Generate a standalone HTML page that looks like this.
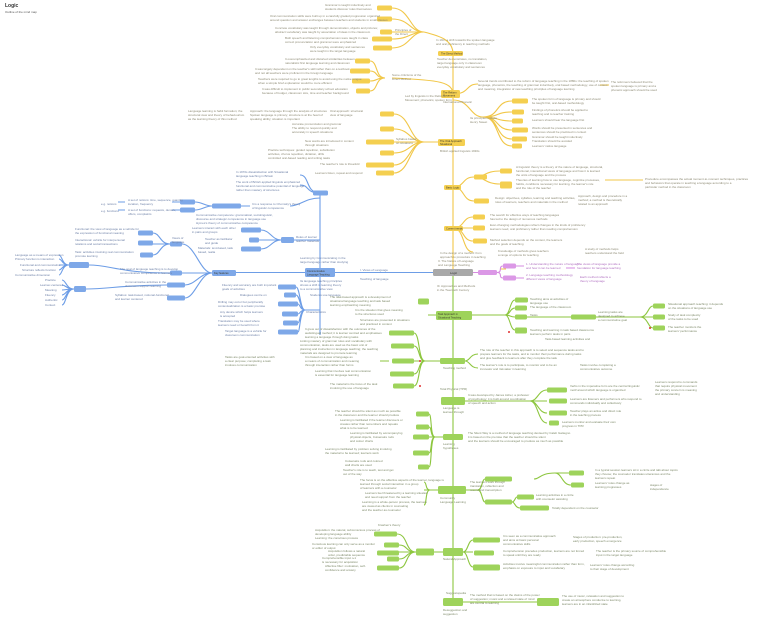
<!DOCTYPE html>
<html><head><meta charset="utf-8"><style>
html,body{margin:0;padding:0;background:#fff;width:768px;height:617px;overflow:hidden}
svg{display:block}
text{font-family:"Liberation Sans",sans-serif}
.t{font-size:3px;fill:#8d8a74}
.tb{font-size:3px;fill:#6f82a8}
.tg{font-size:3px;fill:#7e8a6a}
.y{stroke:#f1c748;stroke-width:1.1;fill:none}
.b{stroke:#6d9de6;stroke-width:1.1;fill:none}
.g{stroke:#8dc63f;stroke-width:1.1;fill:none}
.p{stroke:#d68be0;stroke-width:1.1;fill:none}
.ny{fill:#f4cf50}
.nb{fill:#7ea8e8}
.ng{fill:#9ed35b}
.np{fill:#db98e6}
.nl{font-size:2.6px;fill:#3c3a2a}
</style></head><body>
<svg width="768" height="617" viewBox="0 0 768 617" xmlns="http://www.w3.org/2000/svg">
<text x="5" y="7" style="font-size:5px;fill:#333;font-weight:bold">Logic</text>
<text x="5" y="13" style="font-size:3px;fill:#555">Outline of the mind map</text>

<!-- ===== YELLOW ===== -->
<path class="y" d="M453 54 V270"/>
<path class="y" d="M453 54 C453 40 440 36 424 32"/>
<path class="y" d="M453 95 C453 82 440 80 392 78"/>
<path class="y" d="M424 32 C410 32 410 8 392 8 M424 32 C410 32 410 19 392 19 M424 32 H392 M424 32 C410 32 410 39 392 39 M424 32 C410 32 410 48 392 48"/>
<path class="y" d="M385 78 C375 78 378 61 370 61 M385 78 C375 78 378 71 370 71 M385 78 C375 78 378 81 370 81 M385 78 C375 78 378 91 370 91"/>
<path class="y" d="M453 142 H424 M424 142 C410 142 410 114 394 114 M424 142 C410 142 410 129 394 129 M424 142 H394 M424 142 C410 142 410 153 394 153 M424 142 C410 142 410 165 394 165 M424 142 C410 142 410 173 394 173"/>
<path class="y" d="M453 94 C470 94 465 84 478 84"/>
<path class="y" d="M453 100 C470 100 470 117 483 117 M483 117 C500 117 495 101 512 101 M483 117 C500 117 495 112 512 112 M483 117 C500 117 495 121 512 121 M483 117 C500 117 495 130 512 130 M483 117 C500 117 495 139 512 139 M483 117 C500 117 495 146 512 146"/>
<path class="y" d="M453 187 C465 187 462 177 474 177 M474 177 C485 177 485 171 500 171 M474 177 C485 177 485 184 500 184 M453 187 C465 187 462 201 474 201"/>
<path class="y" d="M453 228 C465 228 462 217 473 217 M453 228 H473 M453 228 C465 228 462 241 473 241 M453 228 C465 228 462 252 473 252"/>
<path class="y" d="M600 85 H609 M605 180 H643 M500 269 H506"/>

<rect class="ny" x="438" y="51" width="25" height="5" rx="1.5"/><text class="nl" x="441" y="54.7">The Direct Method</text>
<rect class="ny" x="441" y="90" width="19" height="8" rx="1.5"/><text class="nl" x="443" y="93.5">The Reform</text><text class="nl" x="443" y="96.5">Movement</text>
<rect class="ny" x="438" y="139" width="27" height="7" rx="1.5"/><text class="nl" x="440" y="142">The Oral Approach</text><text class="nl" x="440" y="145">Situational</text>
<rect class="ny" x="444" y="185" width="17" height="5" rx="1.5"/><text class="nl" x="446" y="188.7">Basic Logic</text>
<rect class="ny" x="444" y="226" width="19" height="5" rx="1.5"/><text class="nl" x="446" y="229.7">Current trends</text>
<text class="t" x="436" y="41">In 19C. a shift towards the spoken language</text><text class="t" x="436" y="45">and oral proficiency in teaching methods</text>
<text class="t" x="437" y="60">Teacher demonstrates, no translation,</text><text class="t" x="437" y="64">target language only in classroom</text><text class="t" x="437" y="68">everyday vocabulary and sentences</text>
<text class="t" x="405" y="97">Led by linguists in the Reform</text><text class="t" x="405" y="101">Movement; phonetics; spoken form</text>
<text class="t" x="443" y="103">International Phonetic</text>
<text class="t" x="440" y="152">British applied linguists 1930s</text>
<text class="t" x="440" y="254">In the design of a method: from</text><text class="t" x="440" y="258">approach to procedure in teaching</text>

<rect class="ny" x="377" y="5.5" width="15" height="5" rx="1.5"/><rect class="ny" x="377" y="16.5" width="15" height="5" rx="1.5"/><rect class="ny" x="380" y="29.5" width="12" height="5" rx="1.5"/><rect class="ny" x="372" y="36.5" width="20" height="5" rx="1.5"/><rect class="ny" x="373" y="45.5" width="19" height="5" rx="1.5"/>
<text class="t" x="325" y="6">Grammar is taught inductively and</text><text class="t" x="325" y="10">students discover rules themselves</text>
<text class="t" x="270" y="17">Oral communication skills were built up in a carefully graded progression organized</text><text class="t" x="270" y="21">around question and answer exchanges between teachers and students in small classes</text>
<text class="t" x="275" y="29">Concrete vocabulary was taught through demonstration, objects and pictures;</text><text class="t" x="275" y="33">abstract vocabulary was taught by association of ideas in the classroom</text>
<text class="t" x="285" y="39">Both speech and listening comprehension were taught in class</text><text class="t" x="285" y="43">correct pronunciation and grammar were emphasized</text>
<text class="t" x="310" y="48">Only everyday vocabulary and sentences</text><text class="t" x="310" y="52">were taught in the target language</text>
<text class="t" x="395" y="31">Principles of</text><text class="t" x="395" y="35">the Direct</text>

<rect class="ny" x="355" y="58.5" width="15" height="5" rx="1.5"/><rect class="ny" x="350" y="68.5" width="20" height="5" rx="1.5"/><rect class="ny" x="352" y="78.5" width="18" height="5" rx="1.5"/><rect class="ny" x="356" y="88.5" width="14" height="5" rx="1.5"/>
<text class="t" x="285" y="60">It overemphasized and distorted similarities between</text><text class="t" x="285" y="64">naturalistic first language learning and classroom</text>
<text class="t" x="255" y="70">It was largely dependent on the teacher's skill rather than on a textbook</text><text class="t" x="255" y="74">and not all teachers were proficient in the foreign language</text>
<text class="t" x="258" y="80">Teachers were required to go to great lengths to avoid using the native tongue</text><text class="t" x="258" y="84">when a simple brief explanation would be more efficient</text>
<text class="t" x="262" y="90">It was difficult to implement in public secondary school education</text><text class="t" x="262" y="94">because of budget, classroom size, time and teacher background</text>
<text class="t" x="392" y="76">Some criticisms of the</text><text class="t" x="392" y="80">Direct Method</text>

<rect class="ny" x="380" y="111.5" width="14" height="5" rx="1.5"/><rect class="ny" x="380" y="126.5" width="14" height="5" rx="1.5"/><rect class="ny" x="366" y="139.5" width="28" height="5" rx="1.5"/><rect class="ny" x="380" y="150.5" width="14" height="5" rx="1.5"/><rect class="ny" x="366" y="162.5" width="28" height="5" rx="1.5"/><rect class="ny" x="376" y="170.5" width="18" height="5" rx="1.5"/>
<text class="t" x="188" y="112">Language learning is habit formation; the</text><text class="t" x="188" y="116">structural view and theory of behaviourism</text><text class="t" x="188" y="120">as the learning theory of this method</text>
<text class="t" x="250" y="112">Approach: the language through the analysis of structures</text><text class="t" x="250" y="116">Spoken language is primary; structure is at the heart of</text><text class="t" x="250" y="120">speaking ability; situation is important</text>
<text class="t" x="330" y="112">Oral approach: structural</text><text class="t" x="330" y="116">view of language</text>
<text class="t" x="292" y="125">Accurate pronunciation and grammar</text><text class="t" x="292" y="129">The ability to respond quickly and</text><text class="t" x="292" y="133">accurately in speech situations</text>
<text class="t" x="305" y="142">New words are introduced in context</text><text class="t" x="305" y="146">through situations</text>
<text class="t" x="268" y="151">Practice techniques: guided repetition, substitution</text><text class="t" x="268" y="155">activities, chorus repetition, dictation, drills</text><text class="t" x="268" y="159">controlled oral-based reading and writing tasks</text>
<text class="t" x="320" y="165">The teacher's role is threefold</text>
<text class="t" x="315" y="174">Learners listen, repeat and respond</text>
<text class="t" x="396" y="140">Syllabus based</text><text class="t" x="396" y="144">on situations</text>

<text class="t" x="478" y="82">Several trends contributed to the reform of language teaching in the 1880s: the teaching of spoken</text><text class="t" x="478" y="86">language, phonetics, the teaching of grammar inductively, oral based methodology, use of context</text><text class="t" x="478" y="90">and meaning, integration of new teaching principles of language learning</text>
<text class="t" x="611" y="83">The reformers believed that the</text><text class="t" x="611" y="87">spoken language is primary and a</text><text class="t" x="611" y="91">phonetic approach should be used</text>
<text class="t" x="470" y="119">Its principles include</text><text class="t" x="470" y="123">Henry Sweet</text>
<rect class="ny" x="512" y="98.5" width="16" height="5" rx="1.5"/><rect class="ny" x="512" y="109.5" width="12" height="5" rx="1.5"/><rect class="ny" x="512" y="118.5" width="11" height="5" rx="1.5"/><rect class="ny" x="512" y="127.5" width="16" height="5" rx="1.5"/><rect class="ny" x="512" y="136.5" width="15" height="5" rx="1.5"/><rect class="ny" x="512" y="143.5" width="10" height="5" rx="1.5"/>
<text class="t" x="532" y="100">The spoken form of language is primary and should</text><text class="t" x="532" y="104">be taught first, oral-based methodology</text>
<text class="t" x="532" y="111">Findings of phonetics should be applied to</text><text class="t" x="532" y="115">teaching and to teacher training</text>
<text class="t" x="532" y="121">Learners should hear the language first</text>
<text class="t" x="532" y="129">Words should be presented in sentences and</text><text class="t" x="532" y="133">sentences should be practiced in context</text>
<text class="t" x="532" y="138">Grammar should be taught inductively</text><text class="t" x="532" y="142">Translation should be avoided</text>
<text class="t" x="532" y="147">Learners' native language</text>

<rect class="ny" x="500" y="168.5" width="12" height="5" rx="1.5"/><rect class="ny" x="500" y="181.5" width="12" height="7" rx="1.5"/><rect class="ny" x="474" y="174.5" width="13" height="5" rx="1.5"/><rect class="ny" x="474" y="198.5" width="15" height="5" rx="1.5"/>
<text class="t" x="516" y="168">A linguistic theory is a theory of the nature of language, structural,</text><text class="t" x="516" y="172">functional, interactional views of language and how it is learned</text><text class="t" x="516" y="176">the units of language and the process</text>
<text class="t" x="516" y="181">Theories of learning how to use language, cognitive processes,</text><text class="t" x="516" y="185">habits, conditions necessary for learning, the learner's role</text><text class="t" x="516" y="189">and the role of the teacher</text>
<text class="t" x="495" y="199">Design: objectives, syllabus, learning and teaching activities,</text><text class="t" x="495" y="203">roles of learners, teachers and materials in the method</text>
<text class="t" x="645" y="180">Procedure encompasses the actual moment-to-moment techniques, practices</text><text class="t" x="645" y="184">and behaviors that operate in teaching a language according to a</text><text class="t" x="645" y="188">particular method in the classroom</text>
<text class="t" x="578" y="197">Approach, design and procedure in a</text><text class="t" x="578" y="201">method; a method is theoretically</text><text class="t" x="578" y="205">related to an approach</text>

<rect class="ny" x="473" y="214.5" width="12" height="5" rx="1.5"/><rect class="ny" x="473" y="225.5" width="12" height="5" rx="1.5"/><rect class="ny" x="473" y="238.5" width="14" height="5" rx="1.5"/>
<text class="t" x="490" y="216">The search for effective ways of teaching languages</text><text class="t" x="490" y="220">has led to the design of numerous methods</text>
<text class="t" x="490" y="226">Ever-changing methodologies reflect changes in the kinds of proficiency</text><text class="t" x="490" y="230">learners need, oral proficiency rather than reading comprehension</text>
<text class="t" x="490" y="241">Method selection depends on the context, the learners</text><text class="t" x="490" y="245">and the goals of teaching</text>
<text class="t" x="498" y="252">Knowledge of methods gives teachers</text><text class="t" x="498" y="256">a range of options for teaching</text>
<text class="t" x="585" y="250">A study of methods helps</text><text class="t" x="585" y="254">teachers understand the field</text>

<!-- ===== GRAY CENTRAL ===== -->
<path class="b" d="M335 272.5 H433"/>
<path class="g" d="M453 275 V605"/>
<rect x="433" y="269" width="40" height="7" rx="1.5" fill="#a9a9a9"/><text x="450" y="274" style="font-size:3px;fill:#333">Logic</text>
<text class="t" x="438" y="262">II. The Nature of Language</text><text class="t" x="438" y="266">and Language Teaching</text>
<text class="t" x="437" y="287">III. Approaches and Methods</text><text class="t" x="437" y="291">in the Twentieth Century</text>
<text class="tb" x="360" y="271">I. Views of Language</text><text class="tb" x="360" y="280">Teaching of language</text>

<!-- ===== PINK ===== -->
<path class="p" d="M473 272.5 H478 M497 272.5 C503 272.5 498 266 503 266 M497 272.5 C503 272.5 498 278 503 278 M516 266 H524 M516 278 H524 M566 268 H575"/>
<rect class="np" x="478" y="270" width="19" height="5" rx="1.5"/>
<rect class="np" x="503" y="263.5" width="13" height="5" rx="1.5"/><rect class="np" x="503" y="275.5" width="13" height="5" rx="1.5"/>
<text x="526" y="265" style="font-size:3px;fill:#b070c0">1. Understanding the nature of language</text><text x="526" y="269" style="font-size:3px;fill:#b070c0">and how it can be learned</text>
<text x="526" y="276" style="font-size:3px;fill:#b070c0">2. Language teaching methodology</text><text x="526" y="280" style="font-size:3px;fill:#b070c0">different views of language</text>
<text x="577" y="265" style="font-size:3px;fill:#b070c0">The views of language provide a</text><text x="577" y="269" style="font-size:3px;fill:#b070c0">foundation for language teaching</text>
<text x="580" y="278" style="font-size:3px;fill:#b070c0">Each method reflects a</text><text x="580" y="282" style="font-size:3px;fill:#b070c0">theory of language</text>

<!-- ===== BLUE ===== -->
<path class="b" d="M320 193 V270 M320 276 V335"/>
<path class="b" d="M320 193 C305 193 310 175 300 175 M320 193 C305 193 310 185 300 185"/>
<path class="b" d="M320 198 C305 198 300 206 290 206 M241 206 H250 M212 206 C205 206 202 202 195 202 M212 206 C205 206 202 210 195 210 M180 202 H172 M180 210 H172 M125 202 H118 M125 210 H118"/>
<path class="b" d="M305 272.5 H236"/>
<path class="b" d="M212 273 C200 273 195 244 182 244 M212 273 H182 M212 273 C200 273 195 285 185 285 M212 273 C200 273 195 298 185 298"/>
<path class="b" d="M170 244 C160 244 160 233 153 233 M170 244 H153 M170 244 C160 244 160 255 153 255"/>
<path class="b" d="M170 273 C120 273 110 265 89 265 M167 285 C120 285 110 289 86 289"/>
<path class="b" d="M69 265 C62 265 62 255 59 255 M69 265 C62 265 62 259 59 259 M69 265 C62 265 62 265 59 265 M69 265 C62 265 62 270 59 270 M69 265 C62 265 62 275 59 275"/>
<path class="b" d="M74 289 C66 289 66 280 62 280 M74 289 C66 289 66 285 62 285 M74 289 C66 289 66 290 62 290 M74 289 C66 289 66 295 62 295 M74 289 C66 289 66 300 62 300 M74 289 C66 289 66 305 62 305"/>
<path class="b" d="M320 240 H293 M281 240 C272 240 270 230 261 230 M281 240 H259 M281 240 C272 240 270 249 261 249"/>
<path class="b" d="M320 310 H305 M305 310 C300 310 300 287 296 287 M305 310 C300 310 300 295 296 295 M305 310 C300 310 300 304 298 304 M305 310 C300 310 300 314 298 314 M305 310 C300 310 300 323 298 323 M305 310 C300 310 300 332 298 332"/>

<rect class="nb" x="305" y="268" width="30" height="9" rx="1.5"/><text class="nl" x="307" y="272">Communicative</text><text class="nl" x="307" y="275.5">Language Teaching</text>
<rect class="nb" x="313" y="190.5" width="15" height="5" rx="1.5"/>
<text class="tb" x="236" y="173">In 1970s dissatisfaction with Situational</text><text class="tb" x="236" y="177">language teaching in Britain</text>
<text class="tb" x="236" y="183">The work of British applied linguists emphasized</text><text class="tb" x="236" y="187">functional and communicative potential of language</text><text class="tb" x="236" y="191">rather than mastery of structures</text>
<rect class="nb" x="212" y="203.5" width="29" height="5" rx="1.5"/>
<text class="tb" x="252" y="205">It is a response to Chomsky's theory</text><text class="tb" x="252" y="209">of linguistic competence</text>
<rect class="nb" x="180" y="199.5" width="15" height="5" rx="1.5"/><rect class="nb" x="180" y="207.5" width="15" height="5" rx="1.5"/>
<text class="tb" x="128" y="201">A set of notions: time, sequence, quantity,</text><text class="tb" x="128" y="205">location, frequency</text>
<text class="tb" x="128" y="211">A set of functions: requests, denials,</text><text class="tb" x="128" y="215">offers, complaints</text>
<text class="tb" x="101" y="205">e.g. notions</text><text class="tb" x="101" y="212">e.g. functions</text>
<text class="tb" x="196" y="216">Communicative competence: grammatical, sociolinguistic,</text><text class="tb" x="196" y="220">discourse and strategic competence in language use</text><text class="tb" x="196" y="224">Hymes's theory of communicative competence</text>

<rect class="nb" x="212" y="270" width="24" height="6" rx="1.5"/><text class="nl" x="214" y="274">Key features</text>
<rect class="nb" x="170" y="241.5" width="12" height="5" rx="1.5"/><rect class="nb" x="170" y="270.5" width="12" height="5" rx="1.5"/><rect class="nb" x="167" y="282.5" width="18" height="5" rx="1.5"/><rect class="nb" x="167" y="295.5" width="18" height="5" rx="1.5"/>
<rect class="nb" x="138" y="230.5" width="15" height="5" rx="1.5"/><rect class="nb" x="138" y="240.5" width="15" height="5" rx="1.5"/><rect class="nb" x="140" y="252.5" width="13" height="5" rx="1.5"/>
<text class="tb" x="75" y="230">Functional: the view of language as a vehicle for</text><text class="tb" x="75" y="234">the expression of functional meaning</text>
<text class="tb" x="75" y="241">Interactional: vehicle for interpersonal</text><text class="tb" x="75" y="245">relations and social transactions</text>
<text class="tb" x="75" y="253">Task: activities involving real communication</text><text class="tb" x="75" y="257">promote learning</text>
<text class="tb" x="172" y="239">Views of</text><text class="tb" x="172" y="243">language</text>
<text class="tb" x="120" y="270">The goal of language teaching is to develop</text><text class="tb" x="120" y="274">communicative competence in learners</text>
<text class="tb" x="125" y="283">Communicative activities in the</text><text class="tb" x="125" y="287">classroom support learning</text>
<text class="tb" x="115" y="296">Syllabus: task-based, notional-functional</text><text class="tb" x="115" y="300">and learner centered</text>
<rect class="nb" x="69" y="262" width="20" height="6" rx="1.5"/><rect class="nb" x="74" y="286" width="12" height="6" rx="1.5"/>
<text class="tb" x="15" y="256">Language as a means of expression</text><text class="tb" x="15" y="260">Primary function is interaction</text><text class="tb" x="20" y="266">Functional and communicative</text><text class="tb" x="22" y="271">Structure reflects function</text><text class="tb" x="15" y="276">Communicative dimension</text>
<text class="tb" x="45" y="281">Practice</text><text class="tb" x="40" y="286">Learner-centered</text><text class="tb" x="45" y="291">Meaning</text><text class="tb" x="45" y="296">Fluency</text><text class="tb" x="45" y="301">Authentic</text><text class="tb" x="45" y="306">Context</text>

<rect class="nb" x="241" y="227.5" width="20" height="5" rx="1.5"/><rect class="nb" x="249" y="237.5" width="10" height="5" rx="1.5"/><rect class="nb" x="241" y="246.5" width="20" height="5" rx="1.5"/><rect class="nb" x="281" y="237" width="13" height="6" rx="1.5"/>
<text class="tb" x="192" y="229">Learners interact with each other</text><text class="tb" x="192" y="233">in pairs and groups</text>
<text class="tb" x="205" y="240">Teacher as facilitator</text><text class="tb" x="205" y="244">and guide</text>
<text class="tb" x="198" y="249">Materials: text-based, task</text><text class="tb" x="198" y="253">based, realia</text>
<text class="tb" x="296" y="238">Roles of learner</text><text class="tb" x="296" y="242">teacher materials</text>
<text class="tb" x="300" y="259">Learning by Communicating in the</text><text class="tb" x="300" y="263">target language rather than studying</text>
<text class="tb" x="300" y="282">Its language teaching principles</text><text class="tb" x="300" y="286">shows a shift in learning theory</text><text class="tb" x="300" y="290">to a communicative view</text>
<text class="tb" x="310" y="296">Students use language</text>

<rect class="nb" x="278" y="284.5" width="18" height="5" rx="1.5"/><rect class="nb" x="284" y="292.5" width="12" height="5" rx="1.5"/><rect class="nb" x="278" y="301.5" width="20" height="5" rx="1.5"/><rect class="nb" x="282" y="311.5" width="16" height="5" rx="1.5"/><rect class="nb" x="283" y="320.5" width="15" height="5" rx="1.5"/><rect class="nb" x="278" y="329.5" width="20" height="5" rx="1.5"/>
<text class="tb" x="222" y="286">Fluency and accuracy are both important</text><text class="tb" x="222" y="290">goals of activities</text>
<text class="tb" x="240" y="296">Dialogues centre on</text>
<text class="tb" x="218" y="303">Drilling may occur but peripherally</text><text class="tb" x="218" y="307">contextualization is a basic premise</text>
<text class="tb" x="220" y="313">Any device which helps learners</text><text class="tb" x="220" y="317">is accepted</text>
<text class="tb" x="218" y="322">Translation may be used where</text><text class="tb" x="218" y="326">learners need or benefit from it</text>
<text class="tb" x="225" y="332">Target language is a vehicle for</text><text class="tb" x="225" y="336">classroom communication</text>
<text class="tb" x="306" y="313">Characteristics</text>

<!-- ===== GREEN ===== -->
<rect class="ng" x="436" y="311" width="36" height="9" rx="1.5"/><text class="nl" x="438" y="315">Task Approach in</text><text class="nl" x="438" y="318.5">Situational Teaching</text>
<path class="g" d="M436 315 H428 M472 315 C490 315 490 315 505 315 M505 315 C510 315 510 300 515 300 M505 315 C510 315 510 308 515 308 M505 315 C510 315 510 317 515 317 M505 315 C510 315 510 330 515 330 M527 317 H571 M596 317 H640 M640 317 C648 317 648 306 653 306 M640 317 H653 M640 317 C648 317 648 328 653 328"/>
<rect class="ng" x="418" y="298.5" width="11" height="6" rx="1.5"/>
<text class="tg" x="330" y="298">The task-based approach is a development of</text><text class="tg" x="330" y="302">situational language teaching and task based</text><text class="tg" x="330" y="306">learning emphasizing meaning</text>
<text class="tg" x="355" y="311">It is the situation that gives meaning</text><text class="tg" x="355" y="315">to the structures used</text>
<text class="tg" x="360" y="321">Structures are presented in situations</text><text class="tg" x="360" y="325">and practiced in context</text>
<rect class="ng" x="515" y="297.5" width="13" height="5" rx="1.5"/><rect class="ng" x="515" y="305.5" width="12" height="5" rx="1.5"/><rect class="ng" x="515" y="314.5" width="12" height="5" rx="1.5"/><rect class="ng" x="515" y="327.5" width="12" height="6" rx="1.5"/>
<text class="tg" x="530" y="300">Teaching aims at activities of</text><text class="tg" x="530" y="304">language use</text>
<text class="tg" x="530" y="308">The language of the classroom</text>
<text class="tg" x="530" y="316">Tasks</text>
<rect class="ng" x="571" y="314.5" width="25" height="5" rx="1.5"/>
<text class="tg" x="598" y="313">Learning tasks are</text><text class="tg" x="598" y="317">designed to achieve</text><text class="tg" x="598" y="321">a communicative goal</text>
<rect class="ng" x="653" y="303.5" width="12" height="5" rx="1.5"/><rect class="ng" x="653" y="314.5" width="12" height="5" rx="1.5"/><rect class="ng" x="653" y="325.5" width="12" height="5" rx="1.5"/>
<text class="tg" x="668" y="305">Situational approach teaching: it depends</text><text class="tg" x="668" y="309">on the situations of language use</text>
<text class="tg" x="668" y="316">Study of task complexity</text><text class="tg" x="668" y="320">of the tasks to be used</text>
<text class="tg" x="668" y="328">The teacher monitors the</text><text class="tg" x="668" y="332">learners' performance</text>
<text class="tg" x="530" y="331">Teaching and learning in task based classrooms</text><text class="tg" x="530" y="335">learners perform tasks in pairs</text><text class="tg" x="545" y="340">Task-based learning activities and</text>
<circle cx="650" cy="328" r="1" fill="#e03030"/><circle cx="509" cy="332" r="1" fill="#e03030"/>

<rect class="ng" x="440" y="358" width="25" height="6" rx="1.5"/>
<path class="g" d="M440 361 H425 M425 361 C418 361 420 333 414 333 M425 361 C418 361 420 346 414 346 M425 361 H414 M425 361 C418 361 420 374 414 374 M425 361 C418 361 420 386 414 386 M465 361 C470 361 470 354 478 354 M465 361 C470 361 470 368 478 368 M389 361 H380"/>
<rect class="ng" x="389" y="330.5" width="25" height="5" rx="1.5"/><rect class="ng" x="391" y="343.5" width="23" height="5" rx="1.5"/><rect class="ng" x="392" y="358.5" width="22" height="5" rx="1.5"/><rect class="ng" x="390" y="371.5" width="24" height="5" rx="1.5"/><rect class="ng" x="393" y="383.5" width="21" height="5" rx="1.5"/>
<circle cx="420" cy="361" r="1" fill="#e03030"/><circle cx="420" cy="386" r="1" fill="#e03030"/>
<text class="tg" x="305" y="330">It grew out of dissatisfaction with the outcomes of the</text><text class="tg" x="305" y="334">audiolingual method; it is learner centred and emphasises</text><text class="tg" x="305" y="338">learning a language through doing tasks</text>
<text class="tg" x="300" y="342">Linking mastery of grammar rules and vocabulary with</text><text class="tg" x="300" y="346">communication, tasks are used as the basic unit of</text><text class="tg" x="300" y="350">planning and instruction in language teaching; the teaching</text><text class="tg" x="300" y="354">materials are designed to promote learning</text>
<text class="tg" x="305" y="358">It is based on a view of language as</text><text class="tg" x="305" y="362">a means of communication and meaning</text><text class="tg" x="305" y="366">through interaction rather than forms</text>
<text class="tg" x="225" y="358">Tasks are goal-oriented activities with</text><text class="tg" x="225" y="362">a clear purpose; completing a task</text><text class="tg" x="225" y="366">involves communication</text>
<text class="tg" x="315" y="372">Learning that involves real communication</text><text class="tg" x="315" y="376">is essential for language learning</text>
<text class="tg" x="330" y="385">The material is the focus of the task</text><text class="tg" x="330" y="389">involving the use of language</text>
<text class="tg" x="480" y="351">The role of the teacher in this approach is to select and sequence tasks and to</text><text class="tg" x="480" y="355">prepare learners for the tasks, and to monitor their performance during tasks</text><text class="tg" x="480" y="359">and give feedback to learners after they complete the task</text>
<text class="tg" x="480" y="366">The learner's role is to participate, to monitor and to be an</text><text class="tg" x="480" y="370">innovator and risk-taker in learning</text>
<text class="tg" x="580" y="366">Tasks involve completing a</text><text class="tg" x="580" y="370">communicative outcome</text>
<text class="tg" x="443" y="369">Teaching method</text>
<text class="tg" x="440" y="390">Total Physical (TPR)</text>

<rect class="ng" x="441" y="397" width="24" height="8" rx="1.5"/>
<path class="g" d="M465 401 H530 M530 401 C538 401 538 390 547 390 M530 401 H547 M530 401 C538 401 538 413 547 413 M530 401 C538 401 538 423 547 423"/>
<text class="tg" x="468" y="396">It was developed by James Asher, a professor</text><text class="tg" x="468" y="400">of psychology; it is built around coordination</text><text class="tg" x="468" y="404">of speech and action</text>
<text class="tg" x="443" y="409">Language is</text><text class="tg" x="443" y="413">learned through</text>
<rect class="ng" x="547" y="387.5" width="20" height="5" rx="1.5"/><rect class="ng" x="549" y="398.5" width="18" height="5" rx="1.5"/><rect class="ng" x="549" y="410.5" width="18" height="5" rx="1.5"/><rect class="ng" x="549" y="420.5" width="10" height="5" rx="1.5"/>
<text class="tg" x="570" y="387">Verbs in the imperative form are the central linguistic</text><text class="tg" x="570" y="391">motif around which language is organized</text>
<text class="tg" x="570" y="400">Learners are listeners and performers who respond to</text><text class="tg" x="570" y="404">commands individually and collectively</text>
<text class="tg" x="570" y="412">Teacher plays an active and direct role</text><text class="tg" x="570" y="416">in the teaching process</text>
<text class="tg" x="562" y="423">Learners monitor and evaluate their own</text><text class="tg" x="562" y="427">progress in TPR</text>
<text class="tg" x="655" y="383">Learners respond to commands</text><text class="tg" x="655" y="387">that require physical movement</text><text class="tg" x="655" y="391">the primary concern is meaning</text><text class="tg" x="655" y="395">and understanding</text>

<rect class="ng" x="443" y="434" width="20" height="6" rx="1.5"/>
<path class="g" d="M443 437 H435 M435 437 C430 437 432 414 429 414 M435 437 C430 437 432 427 429 427 M435 437 H429 M435 437 C430 437 432 453 429 453 M435 437 C430 437 432 467 429 467"/>
<rect class="ng" x="416" y="411.5" width="13" height="5" rx="1.5"/><rect class="ng" x="416" y="424.5" width="13" height="5" rx="1.5"/><rect class="ng" x="413" y="434.5" width="16" height="5" rx="1.5"/><rect class="ng" x="413" y="450.5" width="16" height="5" rx="1.5"/><rect class="ng" x="418" y="464.5" width="11" height="5" rx="1.5"/>
<text class="tg" x="335" y="412">The teacher should be silent as much as possible</text><text class="tg" x="335" y="416">in the classroom and the learner should produce</text>
<text class="tg" x="340" y="421">Learning is facilitated if the learner discovers or</text><text class="tg" x="340" y="425">creates rather than remembers and repeats</text><text class="tg" x="340" y="429">what is to be learned</text>
<text class="tg" x="350" y="434">Learning is facilitated by accompanying</text><text class="tg" x="350" y="438">physical objects, Cuisenaire rods</text><text class="tg" x="350" y="442">and colour charts</text>
<text class="tg" x="325" y="450">Learning is facilitated by problem solving involving</text><text class="tg" x="325" y="454">the material to be learned; learners work</text>
<text class="tg" x="345" y="462">Cuisenaire rods and colored</text><text class="tg" x="345" y="466">wall charts are used</text>
<text class="tg" x="343" y="471">Teacher's role is to teach, test and get</text><text class="tg" x="343" y="475">out of the way</text>
<text class="tg" x="468" y="434">The Silent Way is a method of language teaching devised by Caleb Gattegno</text><text class="tg" x="468" y="438">it is based on the premise that the teacher should be silent</text><text class="tg" x="468" y="442">and the learners should be encouraged to produce as much as possible</text>
<text class="tg" x="443" y="445">Learning</text><text class="tg" x="443" y="449">hypotheses</text>

<rect class="ng" x="438" y="486" width="28" height="8" rx="1.5"/>
<path class="g" d="M438 490 H430 M430 490 C425 490 427 482 424 482 M430 490 H424 M430 490 C425 490 427 505 424 505 M466 490 H478 M478 490 C482 490 482 479 485 479 M478 490 C482 490 482 502 485 502 M512 502 C515 502 515 497 517 497 M512 502 C515 502 515 508 520 508 M534 479 C540 479 540 473 555 473 M555 473 C562 473 562 473 569 473 M555 473 C562 473 562 485 571 485"/>
<text class="tg" x="360" y="481">The focus is on the affective aspects of the learner, language is</text><text class="tg" x="360" y="485">learned through social interaction in a group</text><text class="tg" x="360" y="489">of learners with a counselor</text>
<text class="tg" x="365" y="494">Learners feel threatened by a learning situation</text><text class="tg" x="365" y="498">and need support from the teacher</text>
<text class="tg" x="362" y="503">Learning is a whole-person process, the learners</text><text class="tg" x="362" y="507">are viewed as clients in counseling</text><text class="tg" x="362" y="511">and the teacher as counselor</text>
<text class="tg" x="440" y="499">Community</text><text class="tg" x="440" y="503">Language Learning</text>
<rect class="ng" x="485" y="476.5" width="27" height="5" rx="1.5"/><rect class="ng" x="485" y="499.5" width="27" height="5" rx="1.5"/>
<rect class="ng" x="517" y="494.5" width="17" height="5" rx="1.5"/><rect class="ng" x="520" y="505.5" width="29" height="5" rx="1.5"/>
<rect class="ng" x="569" y="470.5" width="15" height="5" rx="1.5"/><rect class="ng" x="571" y="482.5" width="13" height="5" rx="1.5"/>
<text class="tg" x="470" y="483">The learners work through</text><text class="tg" x="470" y="487">translation, reflection and</text><text class="tg" x="470" y="491">record and transcription</text>
<text class="tg" x="536" y="496">Learning activities in a circle</text><text class="tg" x="536" y="500">with counselor assisting</text>
<text class="tg" x="552" y="509">Totally dependent on the counselor</text>
<text class="tg" x="595" y="471">In a typical session learners sit in a circle and talk about topics</text><text class="tg" x="595" y="475">they choose; the counselor translates utterances and the</text><text class="tg" x="595" y="479">learners repeat</text>
<text class="tg" x="595" y="484">Learners' roles change as</text><text class="tg" x="595" y="488">learning progresses</text><text class="tg" x="650" y="486">stages of</text><text class="tg" x="650" y="490">independence</text>

<rect class="ng" x="443" y="548" width="20" height="8" rx="1.5"/>
<path class="g" d="M443 552 H434 M416 552 C405 552 408 534 397 534 M416 552 C405 552 408 545 399 545 M416 552 H399 M416 552 C405 552 408 559 399 559 M416 552 C405 552 408 568 399 568 M463 552 C468 552 468 540 473 540 M463 552 H473 M463 552 C468 552 468 567 473 567"/>
<rect class="ng" x="416" y="548.5" width="18" height="7" rx="1.5"/>
<rect class="ng" x="374" y="531.5" width="23" height="5" rx="1.5"/><rect class="ng" x="384" y="542.5" width="15" height="5" rx="1.5"/><rect class="ng" x="377" y="550.5" width="22" height="5" rx="1.5"/><rect class="ng" x="387" y="556.5" width="12" height="5" rx="1.5"/><rect class="ng" x="377" y="565.5" width="22" height="5" rx="1.5"/>
<text class="tg" x="315" y="531">Acquisition: the natural, subconscious process of</text><text class="tg" x="315" y="535">developing language ability</text><text class="tg" x="315" y="539">Learning: the conscious process</text>
<text class="tg" x="312" y="545">Conscious learning can only serve as a monitor</text><text class="tg" x="312" y="549">or editor of output</text>
<text class="tg" x="328" y="552">Acquisition follows a natural</text><text class="tg" x="328" y="556">order, predictable sequence</text>
<text class="tg" x="322" y="559">Comprehensible input i+1</text><text class="tg" x="322" y="563">is necessary for acquisition</text>
<text class="tg" x="325" y="567">Affective filter: motivation, self-</text><text class="tg" x="325" y="571">confidence and anxiety</text>
<text class="tg" x="378" y="526">Krashen's theory</text>
<text class="tg" x="443" y="560">Natural Approach</text>
<rect class="ng" x="473" y="537.5" width="27" height="5" rx="1.5"/><rect class="ng" x="474" y="550.5" width="20" height="5" rx="1.5"/><rect class="ng" x="473" y="564.5" width="27" height="6" rx="1.5"/>
<text class="tg" x="503" y="537">It is seen as a communicative approach</text><text class="tg" x="503" y="541">and aims at basic personal</text><text class="tg" x="503" y="545">communicative skills</text>
<text class="tg" x="503" y="552">Comprehension precedes production, learners are not forced</text><text class="tg" x="503" y="556">to speak until they are ready</text>
<text class="tg" x="503" y="565">Activities involve meaningful communication rather than form,</text><text class="tg" x="503" y="569">emphasis on exposure to input and vocabulary</text>
<text class="tg" x="573" y="538">Stages of production: pre-production,</text><text class="tg" x="573" y="542">early production, speech emergence</text>
<text class="tg" x="596" y="552">The teacher is the primary source of comprehensible</text><text class="tg" x="596" y="556">input in the target language</text>
<text class="tg" x="590" y="566">Learners' roles change according</text><text class="tg" x="590" y="570">to their stage of development</text>

<rect class="ng" x="443" y="598" width="20" height="8" rx="1.5"/>
<path class="g" d="M463 602 H537"/>
<text class="tg" x="446" y="594">Suggestopedia</text>
<text class="tg" x="470" y="596">The method that is based on the claims of the power</text><text class="tg" x="470" y="600">of suggestion; music and a relaxed state of mind</text><text class="tg" x="470" y="604">are central to learning</text>
<rect class="ng" x="537" y="598" width="22" height="8" rx="1.5"/>
<text class="tg" x="562" y="597">The use of music, relaxation and suggestion to</text><text class="tg" x="562" y="601">create an atmosphere conducive to learning,</text><text class="tg" x="562" y="605">learners are in an infantilized state</text>
<text class="tg" x="443" y="611">Desuggestion and</text><text class="tg" x="443" y="615">suggestion</text>
</svg>
</body></html>
